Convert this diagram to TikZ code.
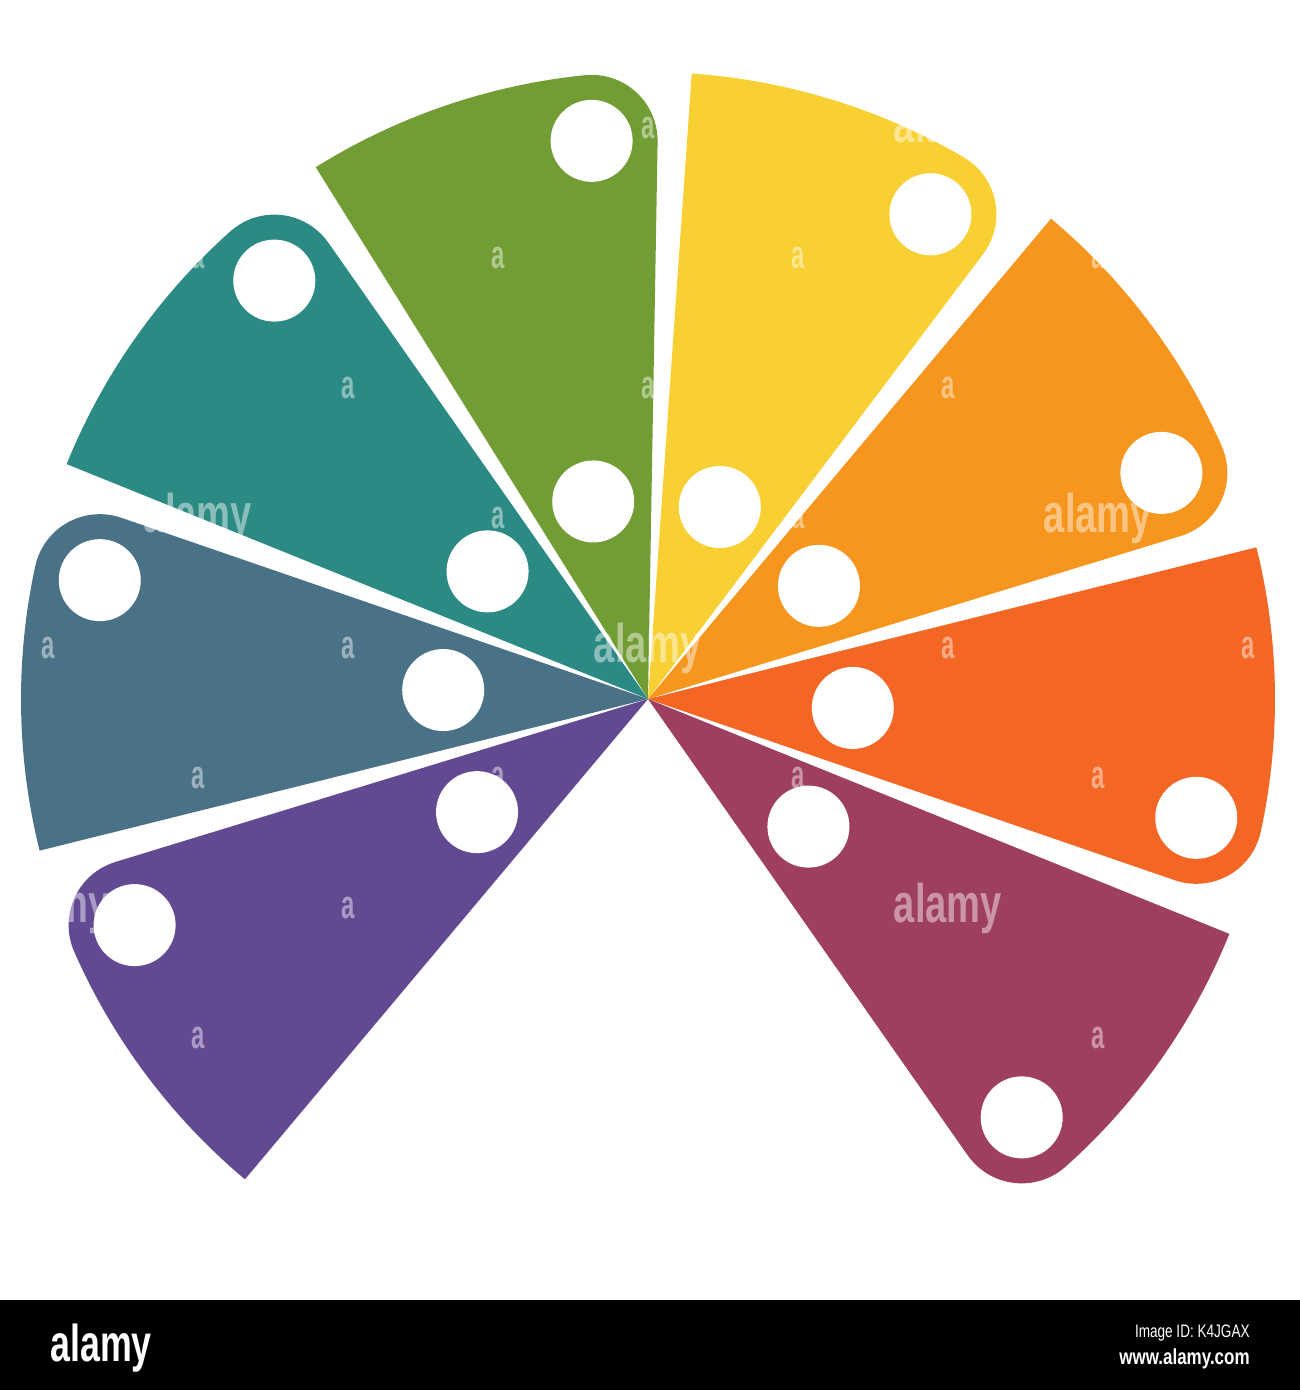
\documentclass[tikz,border=0pt]{standalone}
\usepackage{fontspec}
\setmainfont{Liberation Sans}
\definecolor{fanpurple}{RGB}{99,73,146}
\definecolor{fanslate}{RGB}{74,114,135}
\definecolor{fanteal}{RGB}{44,138,132}
\definecolor{fangreen}{RGB}{114,156,52}
\definecolor{fanyellow}{RGB}{248,208,52}
\definecolor{fanorange}{RGB}{246,150,30}
\definecolor{fanred}{RGB}{243,102,36}
\definecolor{fanwine}{RGB}{158,62,96}
\newcommand{\squeeze}[2]{\scalebox{#1}[1]{#2}}
\tikzset{
  wmsmall/.style={text=white, text opacity=0.45, inner sep=0pt, font=\bfseries\fontsize{22.7}{24}\selectfont},
  wmbig/.style={text=white, text opacity=0.45, inner sep=0pt, font=\bfseries\fontsize{31}{33}\selectfont},
  bartext/.style={text=white, inner sep=0pt}
}
\begin{document}
\begin{tikzpicture}[x=0.02cm, y=0.02cm]
  \useasboundingbox (0,0) rectangle (1300,1390);
  \coordinate (O) at (648,691);
  % eight wedges, each with one rounded outer corner and two holes
  \foreach \col [count=\k from 0] in {fanpurple,fanslate,fanteal,fangreen,fanyellow,fanorange,fanred,fanwine} {
    \pgfmathsetmacro{\bis}{213.5-36*\k}
    \pgfmathsetmacro{\cw}{\bis-16.5}
    \pgfmathsetmacro{\ccw}{\bis+16.5}
    \pgfmathsetmacro{\tip}{\cw+6.77}
    \pgfmathsetmacro{\foot}{\cw-90}
    \fill[\col] (O) -- ++(\ccw:627) arc[start angle=\ccw, end angle=\tip, radius=627]
      arc[start angle=\tip, end angle=\foot, radius=66] -- cycle;
    \fill[white] (O) ++(\tip:561) circle[radius=41];
    \fill[white] (O) ++(\bis:205) circle[radius=41];
  }
  % watermark
  \foreach \px/\py [count=\n] in {648/1262, 198/1132, 498/1132, 798/1132, 1098/1132,
      348/1002, 648/1002, 948/1002, 498/872, 798/872, 48/742, 348/742, 948/742, 1248/742,
      198/612, 498/612, 798/612, 1098/612, 348/482, 198/352, 1098/352}
    \node[wmsmall] (wa\n) at (\px,\py) {\squeeze{0.6}{a}};
  \foreach \px/\py [count=\n] in {948/1262, 198/872, 1098/872, 648/742, 56/482, 948/482}
    \node[wmbig] (wb\n) at (\px,\py) {\squeeze{0.7}{alamy}};
  % bottom bar
  \fill[black] (0,0) rectangle (1300,90);
  \node[bartext, anchor=base west, font=\bfseries\fontsize{29.5}{30}\selectfont] (logo) at (50,29) {\squeeze{0.69}{alamy}};
  \node[bartext, anchor=base east, font=\fontsize{10.3}{12}\selectfont] (imgid) at (1250,52) {\squeeze{0.75}{Image ID: K4JGAX}};
  \node[bartext, anchor=base east, font=\bfseries\fontsize{12.4}{14}\selectfont] (site) at (1250,26) {\squeeze{0.78}{www.alamy.com}};
\end{tikzpicture}
\end{document}
